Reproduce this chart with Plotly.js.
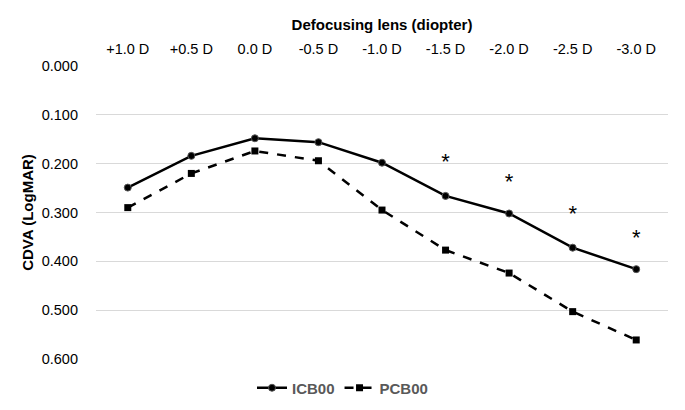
<!DOCTYPE html>
<html>
<head>
<meta charset="utf-8">
<script src="https://cdn.plot.ly/plotly-3.0.1.min.js"></script>
<style>html,body{margin:0;padding:0;background:#fff;}#chart{width:685px;height:410px;}</style>
</head>
<body>
<div id="chart"></div>
<script>
const categories = ["+1.0 D", "+0.5 D", "0.0 D", "-0.5 D", "-1.0 D", "-1.5 D", "-2.0 D", "-2.5 D", "-3.0 D"];
const icb00 = [0.249, 0.184, 0.148, 0.156, 0.198, 0.266, 0.302, 0.372, 0.416];
const pcb00 = [0.290, 0.220, 0.174, 0.194, 0.295, 0.377, 0.424, 0.503, 0.561];
const starCategories = ["-1.5 D", "-2.0 D", "-2.5 D", "-3.0 D"];
const starValues = [0.200, 0.241, 0.307, 0.356];
const yTicks = [0, 0.1, 0.2, 0.3, 0.4, 0.5, 0.6];

const FONT = "Liberation Sans, Arial, sans-serif";

const traces = [
  {x: categories, y: icb00, name: "ICB00", type: "scatter", mode: "lines+markers",
   line: {color: "#000000", width: 2.5},
   marker: {symbol: "circle", size: 7, color: "#000000", line: {color: "#555555", width: 1}}},
  {x: categories, y: pcb00, name: "PCB00", type: "scatter", mode: "lines+markers",
   line: {color: "#000000", width: 2.5, dash: "dash"},
   marker: {symbol: "square", size: 7, color: "#000000"}},
  {x: starCategories, y: starValues, type: "scatter", mode: "text", text: starValues.map(() => "*"),
   textfont: {family: FONT, size: 22, color: "#000000"},
   showlegend: false, hoverinfo: "skip"}
];

const layout = {
  width: 685, height: 410,
  margin: {l: 96, r: 17, t: 66, b: 51, autoexpand: false},
  paper_bgcolor: "#ffffff", plot_bgcolor: "#ffffff",
  font: {family: FONT, size: 14, color: "#000000"},
  xaxis: {
    type: "category", side: "top", range: [-0.5, 8.5],
    showgrid: false, showline: false, zeroline: false, ticks: "",
    tickfont: {size: 14.5, color: "#000000"}, ticklabelstandoff: 8,
    title: {text: "<b>Defocusing lens (diopter)</b>", font: {size: 15, color: "#000000"}, standoff: 6}
  },
  yaxis: {
    range: [0.6, 0], tickvals: yTicks, tickformat: ".3f",
    showgrid: true, gridcolor: "#d9d9d9", gridwidth: 1, zeroline: false, showline: false, ticks: "",
    tickfont: {size: 14.5, color: "#000000"}, ticklabelstandoff: 17,
    title: {text: "<b>CDVA (LogMAR)</b>", font: {size: 15, color: "#000000"}, standoff: 4}
  },
  showlegend: true,
  legend: {orientation: "h", x: 0.5, xanchor: "center", xref: "container",
           y: 22 / 410, yanchor: "middle", yref: "container",
           font: {size: 15, color: "#595959", family: FONT, weight: "bold"},
           itemwidth: 30, bgcolor: "rgba(0,0,0,0)"}
};

Plotly.newPlot("chart", traces, layout, {displayModeBar: false, staticPlot: true});
</script>
</body>
</html>
